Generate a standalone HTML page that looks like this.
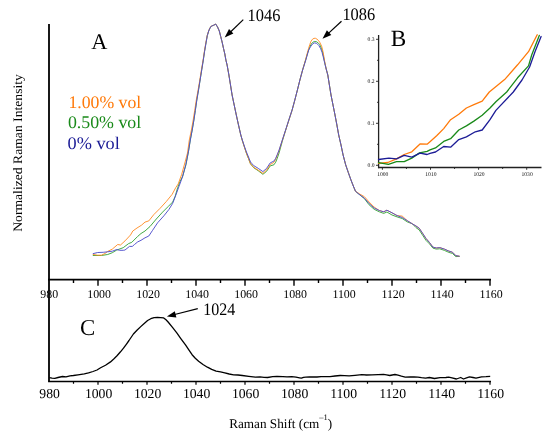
<!DOCTYPE html>
<html><head><meta charset="utf-8"><style>
html,body{margin:0;padding:0;background:#fff;}
body{width:550px;height:437px;overflow:hidden;font-family:"Liberation Serif",serif;}
svg{display:block;will-change:transform;} text{text-rendering:geometricPrecision;}
</style></head><body>
<svg width="550" height="437" viewBox="0 0 550 437"><rect width="550" height="437" fill="#fff"/><g stroke="#000" fill="none" stroke-linecap="butt"><path d="M49,24 V381.5" stroke-width="1.8"/><path d="M48.1,279.7 H491" stroke-width="1.8"/><path d="M48.1,381.5 H491" stroke-width="1.6"/><path d="M73.50,279.7 V283.1 M98.00,279.7 V285.8 M122.50,279.7 V283.1 M147.00,279.7 V285.8 M171.50,279.7 V283.1 M196.00,279.7 V285.8 M220.50,279.7 V283.1 M245.00,279.7 V285.8 M269.50,279.7 V283.1 M294.00,279.7 V285.8 M318.50,279.7 V283.1 M343.00,279.7 V285.8 M367.50,279.7 V283.1 M392.00,279.7 V285.8 M416.50,279.7 V283.1 M441.00,279.7 V285.8 M465.50,279.7 V283.1 M490.00,279.7 V285.8" stroke-width="1.4"/><path d="M73.50,381.5 V383.8 M98.00,381.5 V384.7 M122.50,381.5 V383.8 M147.00,381.5 V384.7 M171.50,381.5 V383.8 M196.00,381.5 V384.7 M220.50,381.5 V383.8 M245.00,381.5 V384.7 M269.50,381.5 V383.8 M294.00,381.5 V384.7 M318.50,381.5 V383.8 M343.00,381.5 V384.7 M367.50,381.5 V383.8 M392.00,381.5 V384.7 M416.50,381.5 V383.8 M441.00,381.5 V384.7 M465.50,381.5 V383.8 M490.00,381.5 V384.7" stroke-width="1.2"/></g><g fill="none" stroke-width="0.9" stroke-linejoin="round" stroke-linecap="round"><path d="M93.2,255.5 L101.4,255.5 L107.7,254.5 L112.3,252.7 L116.8,250.0 L123.2,247.7 L128.6,243.6 L131.8,242.3 L137.7,236.4 L141.0,233.5 L145.0,231.0 L150.0,226.5 L156.3,219.0 L162.6,212.1 L168.3,206.4 L172.7,202.0 L175.2,196.3 L177.7,187.5 L180.0,181.5 L182.6,176.5 L186.0,164.5 L188.5,151.5 L190.3,140.0 L192.2,130.0 L193.9,120.0 L195.3,110.5 L196.8,100.0 L198.5,90.0 L200.1,80.0 L201.7,70.0 L203.3,60.0 L204.6,51.2 L206.0,42.9 L207.3,35.6 L208.7,31.0 L210.0,28.0 L211.5,26.0 L213.5,25.3 L215.7,24.1 L217.5,26.9 L219.3,31.0 L220.7,36.5 L222.1,42.0 L223.5,48.4 L224.8,53.9 L225.9,60.1 L227.1,65.0 L228.9,75.0 L230.5,85.0 L232.1,95.0 L234.2,105.0 L236.3,115.0 L238.5,125.0 L240.8,135.1 L242.3,140.4 L244.3,146.8 L246.4,153.1 L248.5,158.5 L250.5,163.8 L253.7,167.7 L258.3,170.8 L262.9,174.3 L266.6,171.3 L270.2,165.9 L273.9,164.8 L275.7,162.2 L277.3,158.1 L279.1,152.9 L282.3,141.3 L285.6,130.4 L288.8,120.3 L292.1,110.2 L294.8,100.2 L297.4,90.1 L299.9,80.0 L302.6,70.0 L305.6,60.0 L307.8,52.5 L309.5,47.5 L311.0,44.5 L312.5,42.5 L314.3,41.5 L316.5,41.7 L318.5,43.2 L319.8,44.7 L321.6,48.8 L322.6,52.0 L323.6,57.0 L324.8,63.0 L326.2,69.0 L327.8,75.0 L329.4,85.0 L331.0,95.0 L333.0,105.0 L335.0,115.0 L336.9,125.0 L338.7,135.0 L341.0,145.0 L343.1,155.0 L345.7,164.9 L348.3,172.5 L350.9,179.8 L353.3,186.0 L355.5,191.3 L360.0,195.0 L364.4,198.6 L369.1,204.8 L374.2,209.3 L379.3,211.8 L383.7,213.4 L386.9,212.0 L392.0,215.0 L397.1,216.9 L402.2,218.5 L407.3,221.9 L412.4,223.8 L416.0,227.6 L419.2,229.9 L422.6,235.2 L426.0,240.4 L429.5,243.9 L432.9,248.1 L436.3,249.1 L439.8,248.8 L444.4,250.4 L448.9,252.4 L452.4,253.4 L455.8,256.6 L459.2,256.4" stroke="#30a030"/><path d="M93.2,254.5 L97.7,255.2 L101.4,255.2 L105.0,253.5 L107.7,251.4 L112.3,249.1 L117.7,244.5 L120.5,245.0 L125.0,240.9 L130.5,235.0 L132.8,231.0 L137.0,228.0 L141.6,225.1 L145.0,222.1 L148.8,220.9 L153.8,214.6 L160.1,208.3 L166.4,201.4 L172.1,194.4 L175.8,187.5 L178.2,184.0 L181.7,174.3 L185.1,162.0 L187.5,153.0 L189.3,140.0 L191.4,130.0 L193.2,120.0 L194.7,110.5 L196.3,100.0 L198.1,90.0 L199.8,80.0 L201.4,70.0 L203.1,60.0 L204.4,51.2 L205.8,42.9 L207.2,35.6 L208.6,31.0 L209.9,28.0 L211.4,26.0 L213.5,25.3 L215.7,24.1 L217.5,26.9 L219.3,31.0 L220.7,36.5 L222.1,42.0 L223.5,48.4 L224.8,53.9 L225.9,60.1 L227.1,65.0 L228.9,75.0 L230.5,85.0 L232.1,95.0 L234.2,105.0 L236.3,115.0 L238.5,125.0 L240.8,135.1 L242.3,140.4 L244.3,146.8 L246.4,153.1 L248.5,158.5 L250.5,163.8 L253.7,167.4 L258.3,170.2 L262.9,173.4 L266.6,170.1 L270.2,164.5 L273.9,162.4 L275.7,159.2 L277.3,155.1 L279.1,150.5 L282.3,140.4 L285.6,130.3 L288.8,120.3 L292.1,110.2 L294.8,100.1 L297.4,90.1 L299.9,80.0 L302.6,70.0 L305.5,60.0 L307.3,53.0 L308.6,48.4 L309.8,44.5 L311.0,41.3 L312.5,39.2 L314.0,38.3 L315.5,38.3 L317.0,39.2 L318.5,40.5 L319.8,42.4 L321.6,46.1 L322.6,49.8 L323.6,55.0 L324.8,62.0 L326.2,69.0 L327.8,75.0 L329.4,85.0 L331.0,95.0 L333.0,105.0 L335.0,115.0 L336.9,125.0 L338.7,135.0 L341.0,145.0 L343.1,155.0 L345.7,164.9 L348.3,172.5 L350.9,179.8 L353.3,186.0 L355.5,191.3 L360.0,194.2 L364.4,196.7 L369.1,202.0 L374.2,207.1 L379.3,210.5 L383.7,211.8 L386.9,210.2 L392.0,212.8 L397.1,215.6 L402.2,216.1 L407.3,220.7 L412.4,223.9 L416.0,226.0 L419.2,228.2 L422.6,233.3 L426.0,238.5 L429.5,242.5 L432.9,247.1 L436.3,248.0 L439.8,247.6 L444.4,249.1 L448.9,251.1 L452.4,252.2 L455.8,255.6 L459.2,256.2" stroke="#ff8a20"/><path d="M93.2,253.6 L97.7,252.5 L103.2,252.3 L107.7,251.8 L112.3,251.2 L116.8,249.5 L119.5,250.3 L123.2,250.3 L125.0,250.0 L129.5,246.4 L132.3,246.4 L134.5,244.5 L137.7,241.9 L141.0,240.3 L145.0,237.8 L148.8,236.0 L152.6,230.3 L157.6,222.8 L163.9,215.8 L168.9,209.5 L172.7,203.3 L175.8,195.1 L178.9,186.7 L182.4,177.1 L185.8,164.7 L188.5,151.0 L190.3,140.0 L192.2,130.0 L193.9,120.0 L195.3,110.5 L196.8,100.0 L198.5,90.0 L200.1,80.0 L201.7,70.0 L203.3,60.0 L204.6,51.2 L206.0,42.9 L207.3,35.6 L208.7,31.0 L210.0,28.0 L211.5,26.0 L213.5,25.3 L215.7,24.1 L217.5,26.9 L219.3,31.0 L220.7,36.5 L222.1,42.0 L223.5,48.4 L224.8,53.9 L225.9,60.1 L227.1,65.0 L228.9,75.0 L230.5,85.0 L232.1,95.0 L234.2,105.0 L236.3,115.0 L238.5,125.0 L240.8,135.0 L242.3,140.0 L244.3,146.0 L246.4,151.9 L248.5,157.0 L250.5,162.0 L253.7,165.6 L258.3,168.4 L262.9,171.6 L266.6,168.4 L270.2,162.9 L273.9,161.1 L275.7,158.3 L277.3,154.5 L279.1,150.0 L282.3,140.0 L285.6,130.0 L288.8,120.0 L292.1,110.0 L294.8,100.0 L297.4,90.0 L299.9,80.0 L302.6,70.0 L305.8,60.0 L308.7,50.0 L310.8,46.3 L312.5,44.0 L314.3,42.9 L316.6,43.3 L318.9,45.6 L320.7,48.8 L322.1,52.5 L323.5,58.0 L324.8,63.5 L326.2,69.0 L327.8,75.0 L329.4,85.0 L331.0,95.0 L333.0,105.0 L335.0,115.0 L336.9,125.0 L338.7,135.0 L341.0,145.0 L343.1,155.0 L345.7,164.9 L348.3,172.5 L350.9,179.8 L353.3,186.0 L355.5,191.3 L360.0,195.0 L364.4,198.2 L369.1,203.5 L374.2,208.0 L379.3,210.5 L383.7,211.8 L386.9,210.2 L392.0,212.8 L397.1,215.6 L402.2,217.5 L407.3,220.7 L412.4,223.9 L416.0,226.0 L419.2,228.2 L422.6,233.3 L426.0,238.5 L429.5,242.5 L432.9,247.1 L436.3,248.0 L439.8,247.6 L444.4,249.1 L448.9,251.1 L452.4,252.2 L455.8,255.6 L459.2,256.2" stroke="#5050cc" stroke-width="0.95"/></g><path d="M49.4,377.6 L52.0,378.2 L54.8,378.3 L58.0,377.5 L62.5,376.5 L66.0,376.8 L70.0,375.9 L73.4,375.5 L78.0,374.8 L84.3,373.9 L88.5,372.9 L93.0,371.5 L97.0,370.0 L100.6,367.8 L105.5,365.2 L110.5,361.9 L114.0,358.8 L117.0,355.8 L120.5,351.8 L123.5,348.2 L126.3,344.3 L129.0,340.5 L133.4,334.0 L137.2,330.0 L141.0,326.4 L144.5,323.2 L147.6,320.5 L150.8,318.7 L154.1,317.6 L157.5,317.4 L160.6,317.6 L163.7,317.9 L166.0,319.8 L168.1,322.0 L172.5,327.4 L176.8,332.9 L181.0,338.8 L185.5,344.9 L189.0,350.2 L192.1,354.7 L195.3,358.3 L198.6,361.3 L203.0,364.5 L207.4,367.2 L211.7,369.4 L216.1,371.1 L220.5,371.8 L224.8,372.8 L229.2,374.0 L233.6,374.8 L238.0,375.0 L242.3,375.5 L248.8,376.4 L255.4,377.2 L260.0,376.9 L264.0,377.3 L267.6,377.5 L272.7,376.7 L277.0,376.5 L282.9,376.6 L287.0,376.9 L291.8,376.7 L296.0,377.2 L299.5,377.8 L301.4,378.2 L303.5,377.4 L305.8,377.2 L309.5,377.0 L313.5,376.9 L317.0,377.0 L321.1,376.7 L325.0,376.7 L330.0,376.6 L335.0,376.0 L340.2,375.5 L344.5,375.6 L349.1,375.9 L355.0,375.3 L361.8,374.7 L366.5,375.0 L372.0,374.9 L378.0,374.6 L383.5,374.3 L386.5,374.8 L389.8,375.5 L392.2,375.0 L394.9,374.5 L398.0,375.2 L401.4,376.2 L405.2,377.2 L410.3,376.8 L414.0,377.0 L417.9,377.2 L421.5,377.7 L425.5,378.1 L429.4,377.5 L434.5,378.5 L440.0,377.7 L445.9,377.5 L448.7,377.1 L452.0,377.8 L456.4,379.0 L460.7,377.5 L463.5,379.0 L466.5,377.8 L469.5,376.8 L473.0,377.5 L476.0,378.1 L481.5,376.9 L486.0,376.7 L490.2,376.4" fill="none" stroke="#000" stroke-width="1.3" stroke-linejoin="round"/><g stroke="#222" fill="none"><path d="M378.6,35 V168.2" stroke-width="1.3"/><path d="M378,167.5 H541.5" stroke-width="1.3"/><path d="M376.0,165.3 H378.6 M377.0,144.3 H378.6 M376.0,123.3 H378.6 M377.0,102.3 H378.6 M376.0,81.3 H378.6 M377.0,60.3 H378.6 M376.0,39.3 H378.6 M382.40,167.5 V169.8 M406.45,167.5 V169 M430.50,167.5 V169.8 M454.55,167.5 V169 M478.60,167.5 V169.8 M502.65,167.5 V169 M526.70,167.5 V169.8" stroke-width="0.9"/></g><g fill="none" stroke-width="1.3" stroke-linejoin="round" stroke-linecap="round"><path d="M378.5,163.3 L387.8,162.5 L396.5,158.9 L404.2,154.5 L411.8,151.8 L420.0,144.0 L427.1,144.2 L430.0,141.7 L436.9,135.5 L443.7,128.6 L450.6,119.7 L458.8,114.2 L466.4,108.0 L473.9,104.6 L482.2,101.2 L489.3,92.0 L504.6,79.6 L517.6,64.8 L528.5,51.7 L537.2,34.8" stroke="#ff7a0a"/><path d="M378.5,162.7 L388.4,164.4 L396.5,161.6 L404.2,161.6 L411.8,158.1 L419.5,152.9 L427.1,151.3 L430.0,149.9 L435.5,147.9 L443.7,141.4 L450.6,138.7 L458.8,130.0 L466.4,125.9 L473.9,121.1 L482.2,115.3 L490.0,108.0 L495.9,101.7 L506.7,92.0 L517.6,77.8 L528.5,65.9 L531.7,55.0 L539.3,35.4" stroke="#1a8a1a"/><path d="M378.5,159.5 L388.9,158.1 L396.5,158.9 L404.2,155.3 L411.8,157.1 L420.0,153.1 L427.1,154.5 L430.0,153.4 L435.5,152.0 L443.7,146.5 L450.6,147.2 L458.8,139.6 L466.4,136.9 L475.3,131.8 L482.2,130.0 L490.0,119.7 L495.9,110.4 L513.3,92.0 L522.0,80.0 L529.6,67.0 L535.0,51.7 L541.1,36.5" stroke="#1c1c96"/></g><text x="91.2" y="48.6" font-size="22.4" fill="#000" text-anchor="start" font-family="Liberation Serif, serif" >A</text><text x="390.8" y="45.6" font-size="23.2" fill="#000" text-anchor="start" font-family="Liberation Serif, serif" >B</text><text x="79.9" y="335.0" font-size="22.8" fill="#000" text-anchor="start" font-family="Liberation Serif, serif" >C</text><text x="247.6" y="21.0" font-size="17.6" fill="#000" text-anchor="start" font-family="Liberation Serif, serif" textLength="32.8" lengthAdjust="spacingAndGlyphs">1046</text><text x="342.4" y="20.1" font-size="17.6" fill="#000" text-anchor="start" font-family="Liberation Serif, serif" textLength="32.8" lengthAdjust="spacingAndGlyphs">1086</text><text x="203.2" y="315.4" font-size="17.6" fill="#000" text-anchor="start" font-family="Liberation Serif, serif" textLength="32.0" lengthAdjust="spacingAndGlyphs">1024</text><text x="68.4" y="108.3" font-size="17.8" fill="#ff7a0a" text-anchor="start" font-family="Liberation Serif, serif" textLength="72.8" lengthAdjust="spacingAndGlyphs">1.00% vol</text><text x="67.9" y="128.3" font-size="17.8" fill="#1a8a1a" text-anchor="start" font-family="Liberation Serif, serif" textLength="73.3" lengthAdjust="spacingAndGlyphs">0.50% vol</text><text x="67.6" y="149.2" font-size="17.8" fill="#1c1c96" text-anchor="start" font-family="Liberation Serif, serif" textLength="52.2" lengthAdjust="spacingAndGlyphs">0% vol</text><text x="49.20" y="297.7" font-size="11.9" fill="#000" text-anchor="middle" font-family="Liberation Serif, serif" >980</text><text x="49.60" y="397.6" font-size="13.7" fill="#000" text-anchor="middle" font-family="Liberation Serif, serif" >980</text><text x="99.10" y="297.7" font-size="11.9" fill="#000" text-anchor="middle" font-family="Liberation Serif, serif" >1000</text><text x="98.60" y="397.6" font-size="13.7" fill="#000" text-anchor="middle" font-family="Liberation Serif, serif" >1000</text><text x="148.10" y="297.7" font-size="11.9" fill="#000" text-anchor="middle" font-family="Liberation Serif, serif" >1020</text><text x="147.60" y="397.6" font-size="13.7" fill="#000" text-anchor="middle" font-family="Liberation Serif, serif" >1020</text><text x="197.10" y="297.7" font-size="11.9" fill="#000" text-anchor="middle" font-family="Liberation Serif, serif" >1040</text><text x="196.60" y="397.6" font-size="13.7" fill="#000" text-anchor="middle" font-family="Liberation Serif, serif" >1040</text><text x="246.10" y="297.7" font-size="11.9" fill="#000" text-anchor="middle" font-family="Liberation Serif, serif" >1060</text><text x="245.60" y="397.6" font-size="13.7" fill="#000" text-anchor="middle" font-family="Liberation Serif, serif" >1060</text><text x="295.10" y="297.7" font-size="11.9" fill="#000" text-anchor="middle" font-family="Liberation Serif, serif" >1080</text><text x="294.60" y="397.6" font-size="13.7" fill="#000" text-anchor="middle" font-family="Liberation Serif, serif" >1080</text><text x="344.10" y="297.7" font-size="11.9" fill="#000" text-anchor="middle" font-family="Liberation Serif, serif" >1100</text><text x="343.60" y="397.6" font-size="13.7" fill="#000" text-anchor="middle" font-family="Liberation Serif, serif" >1100</text><text x="393.10" y="297.7" font-size="11.9" fill="#000" text-anchor="middle" font-family="Liberation Serif, serif" >1120</text><text x="392.60" y="397.6" font-size="13.7" fill="#000" text-anchor="middle" font-family="Liberation Serif, serif" >1120</text><text x="442.10" y="297.7" font-size="11.9" fill="#000" text-anchor="middle" font-family="Liberation Serif, serif" >1140</text><text x="441.60" y="397.6" font-size="13.7" fill="#000" text-anchor="middle" font-family="Liberation Serif, serif" >1140</text><text x="491.10" y="297.7" font-size="11.9" fill="#000" text-anchor="middle" font-family="Liberation Serif, serif" >1160</text><text x="490.60" y="397.6" font-size="13.7" fill="#000" text-anchor="middle" font-family="Liberation Serif, serif" >1160</text><text x="374.6" y="167.20000000000002" font-size="5.6" fill="#111" text-anchor="end" font-family="Liberation Serif, serif" >0.0</text><text x="374.6" y="125.20000000000002" font-size="5.6" fill="#111" text-anchor="end" font-family="Liberation Serif, serif" >0.1</text><text x="374.6" y="83.20000000000002" font-size="5.6" fill="#111" text-anchor="end" font-family="Liberation Serif, serif" >0.2</text><text x="374.6" y="41.20000000000001" font-size="5.6" fill="#111" text-anchor="end" font-family="Liberation Serif, serif" >0.3</text><text x="382.8" y="175.9" font-size="5.6" fill="#111" text-anchor="middle" font-family="Liberation Serif, serif" >1000</text><text x="430.9" y="175.9" font-size="5.6" fill="#111" text-anchor="middle" font-family="Liberation Serif, serif" >1010</text><text x="479.0" y="175.9" font-size="5.6" fill="#111" text-anchor="middle" font-family="Liberation Serif, serif" >1020</text><text x="527.1" y="175.9" font-size="5.6" fill="#111" text-anchor="middle" font-family="Liberation Serif, serif" >1030</text><text transform="translate(22.1,231.8) rotate(-90)" font-size="12.9" font-family="Liberation Serif, serif" textLength="157.7" lengthAdjust="spacingAndGlyphs">Normalized Raman Intensity</text><text x="229.2" y="428.2" font-size="13.2" font-family="Liberation Serif, serif">Raman Shift (cm<tspan font-size="8.5" dy="-8">–1</tspan><tspan dy="8">)</tspan></text><path d="M243.3,19.6 L230.5,32.0" stroke="#000" stroke-width="1.2"/><path d="M224.7,37.5 L229.0,29.0 L233.4,33.6 Z" fill="#000"/><path d="M341.5,21.2 L328.4,33.4" stroke="#000" stroke-width="1.2"/><path d="M322.5,38.8 L326.9,30.3 L331.3,35.0 Z" fill="#000"/><path d="M197.8,308.6 L174.7,314.5" stroke="#000" stroke-width="1.2"/><path d="M166.9,316.5 L174.8,311.2 L176.4,317.4 Z" fill="#000"/></svg>
</body></html>
